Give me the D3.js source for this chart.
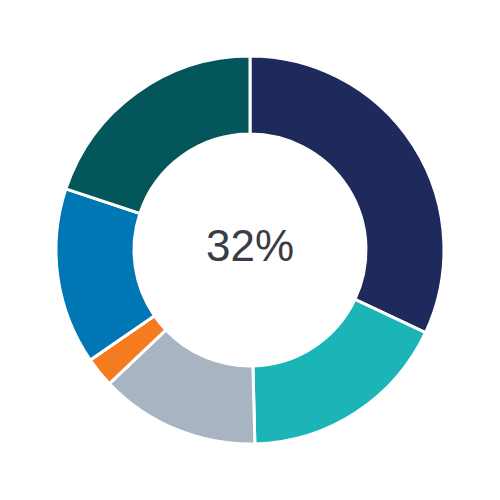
<!DOCTYPE html>
<html>
<head>
<meta charset="utf-8">
<script src="https://cdn.jsdelivr.net/npm/d3@7"></script>
<style>
  body { margin: 0; background: #fff; }
</style>
</head>
<body>
<div id="chart"></div>
<script>
// slice order is clockwise from 12 o'clock
const categories = ['A', 'B', 'C', 'D', 'E', 'F'];
const values = [32, 17.6, 13.3, 2.5, 14.7, 19.9];
const colors = ['#1d2a5b', '#1bb5b7', '#a9b4c3', '#f47b20', '#0076b5', '#03575a'];
const centerLabel = '32%';

const width = 500, height = 500;
const outerR = 194, innerR = 116;

const svg = d3.select('#chart').append('svg')
    .attr('width', width)
    .attr('height', height);

const g = svg.append('g')
    .attr('transform', `translate(${width / 2},${height / 2})`);

const pie = d3.pie()
    .sort(null)
    .value(d => d.value);

const arc = d3.arc()
    .innerRadius(innerR)
    .outerRadius(outerR);

const data = categories.map((c, i) => ({ name: c, value: values[i], color: colors[i] }));

g.selectAll('path')
    .data(pie(data))
    .join('path')
        .attr('d', arc)
        .attr('fill', d => d.data.color)
        .attr('stroke', '#fff')
        .attr('stroke-width', 3);

g.append('text')
    .attr('text-anchor', 'middle')
    .attr('dy', '0.35em')
    .attr('y', -4)
    .style('font-family', 'Liberation Sans, Arial, sans-serif')
    .style('font-size', '44px')
    .style('fill', '#3a3d45')
    .text(centerLabel);
</script>
</body>
</html>
